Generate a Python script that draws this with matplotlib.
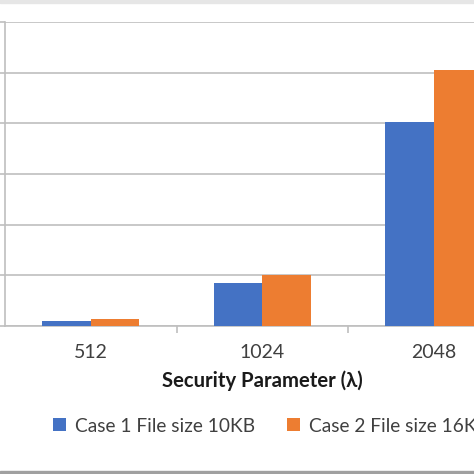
import numpy as np
import matplotlib
matplotlib.use("Agg")
import matplotlib.pyplot as plt
from matplotlib.patches import Rectangle

plt.rcParams['font.family'] = ['Lato', 'DejaVu Sans']

categories = ["512", "1024", "2048"]
case1 = [0.10, 0.84, 4.03]
case2 = [0.13, 1.01, 5.05]
series_names = ["Case 1 File size 10KB", "Case 2 File size 16KB"]
y_ticks = [0, 1, 2, 3, 4, 5, 6]

blue = "#4472C4"
orange = "#ED7D31"
grid_gray = "#BFBFBF"

W = H = 474
fig = plt.figure(figsize=(4.74, 4.74), dpi=100)

# axes runs past the right edge, like the cropped source
ax_left, ax_bottom, ax_top = 5, 474 - 326, 474 - 22
ax_width = 3 * 171.5
ax = fig.add_axes([ax_left / W, ax_bottom / H, ax_width / W, (ax_top - ax_bottom) / H])

x = np.arange(len(categories))
bw = 0.283
ax.bar(x - bw / 2, case1, bw, color=blue, label=series_names[0], zorder=3)
ax.bar(x + bw / 2, case2, bw, color=orange, label=series_names[1], zorder=3)

ax.set_xlim(-0.5, 2.5)
ax.set_ylim(0, 6)
ax.set_yticks(y_ticks)
ax.set_yticklabels([])
ax.yaxis.grid(True, color=grid_gray, linewidth=1.2, zorder=0)
ax.tick_params(axis="y", length=4, color=grid_gray, width=1.2)

ax.set_xticks(x)
ax.set_xticklabels(categories, fontsize=14, color="#404040")
ax.set_xticks([0.5, 1.5], minor=True)
ax.tick_params(axis="x", which="major", length=0, pad=13)
ax.tick_params(axis="x", which="minor", length=5, color=grid_gray, width=1.2)

for s in ["top", "right"]:
    ax.spines[s].set_visible(False)
for s in ["left", "bottom"]:
    ax.spines[s].set_color(grid_gray)
    ax.spines[s].set_linewidth(1.2)

ax.set_xlabel("Security Parameter (λ)", fontsize=14.6, fontweight="bold",
              color="#1a1a1a", labelpad=7)

# legend is cut at the right edge in the source as well
fig.legend(loc="center", bbox_to_anchor=((ax_left + ax_width / 2 + 9) / W, 1 - 426 / H),
           ncol=2, frameon=False, fontsize=13.8, handlelength=0.65, handleheight=0.65,
           handletextpad=0.5, columnspacing=1.66, labelcolor="#404040")

# grey strips at top and bottom edges of the crop
fig.patches.append(Rectangle((0, 1 - 3 / H), 1, 3 / H, transform=fig.transFigure,
                             color="#E6E6E6", zorder=0))
fig.patches.append(Rectangle((0, 0), 1, 3 / H, transform=fig.transFigure,
                             color="#A0A0A0", zorder=0))

fig.savefig("out.png", dpi=100)
